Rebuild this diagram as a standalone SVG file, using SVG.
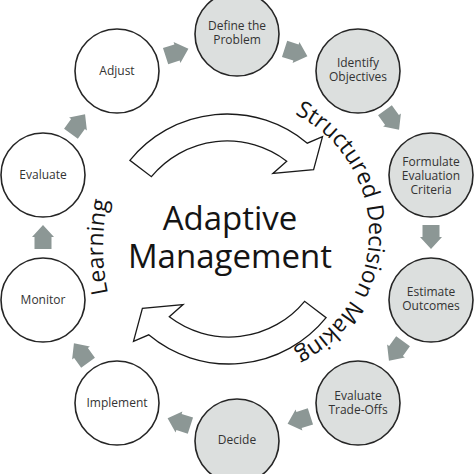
<svg xmlns="http://www.w3.org/2000/svg" xmlns:xlink="http://www.w3.org/1999/xlink" width="474" height="474" viewBox="0 0 474 474">
<style>
.n{stroke:#262626;stroke-width:1.6}
.w{fill:#ffffff}
.g{fill:#dcdfde}
.t{font-family:"Open Sans","DejaVu Sans",sans-serif;font-size:12px;fill:#333;text-anchor:middle}
.big{font-family:"Open Sans","DejaVu Sans",sans-serif;font-size:33px;fill:#141414;text-anchor:middle}
.arc{font-family:"Open Sans","DejaVu Sans",sans-serif;font-size:23px;fill:#141414}
.blk{fill:#8c9795}
.ca{fill:#ffffff;stroke:#1a1a1a;stroke-width:1.3;stroke-linejoin:miter}
</style>
<defs>
<path id="blk" class="blk" d="M-12,-8.5 L0,-8.5 L0,-11 L12,0 L0,11 L0,8.5 L-12,8.5 Z"/>
<path id="sdmPath" d="M 214.1,103 A 132 132 0 1 1 214.1,363" fill="none"/>
<path id="learnPath" d="M 132.5,357 A 220 220 0 0 1 132.5,137" fill="none"/>
<path id="cArrow" d="M 129.9,160.3 A 125 125 0 0 1 307.3,143.2 L 322.5,136.6 L 313.6,169.6 L 272.9,173.5 L 286.7,161.2 A 98 98 0 0 0 151.4,176.7 Z"/>
</defs>
<rect width="474" height="474" fill="#ffffff"/>

<g id="connectors">
<use xlink:href="#blk" href="#blk" transform="translate(177,52.5) rotate(-18)"/>
<use xlink:href="#blk" href="#blk" transform="translate(296,52.5) rotate(18)"/>
<use xlink:href="#blk" href="#blk" transform="translate(392,120) rotate(54)"/>
<use xlink:href="#blk" href="#blk" transform="translate(431,237) rotate(90)"/>
<use xlink:href="#blk" href="#blk" transform="translate(396,351) rotate(126)"/>
<use xlink:href="#blk" href="#blk" transform="translate(299,420) rotate(162)"/>
<use xlink:href="#blk" href="#blk" transform="translate(179,422) rotate(198)"/>
<use xlink:href="#blk" href="#blk" transform="translate(81,353) rotate(234)"/>
<use xlink:href="#blk" href="#blk" transform="translate(43,237) rotate(270)"/>
<use xlink:href="#blk" href="#blk" transform="translate(78,124) rotate(306)"/>
</g>

<g id="center">
<use xlink:href="#cArrow" href="#cArrow" class="ca"/>
<use xlink:href="#cArrow" href="#cArrow" class="ca" transform="rotate(180 228 239)"/>
<text class="big" x="230" y="230">Adaptive</text>
<text class="big" x="230" y="268">Management</text>
<text class="arc"><textPath xlink:href="#sdmPath" href="#sdmPath" startOffset="50%" text-anchor="middle">Structured Decision Making</textPath></text>
<text class="arc"><textPath xlink:href="#learnPath" href="#learnPath" startOffset="50%" text-anchor="middle">Learning</textPath></text>
</g>

<g id="define">
<circle class="n g" cx="237" cy="34" r="42"/>
<text class="t" x="237" y="30">Define the</text>
<text class="t" x="237" y="44">Problem</text>
</g>
<g id="identify">
<circle class="n g" cx="358" cy="71" r="42"/>
<text class="t" x="358" y="67">Identify</text>
<text class="t" x="358" y="81">Objectives</text>
</g>
<g id="formulate">
<circle class="n g" cx="431" cy="175" r="42"/>
<text class="t" x="431" y="166">Formulate</text>
<text class="t" x="431" y="180">Evaluation</text>
<text class="t" x="431" y="194">Criteria</text>
</g>
<g id="estimate">
<circle class="n g" cx="431" cy="300" r="42"/>
<text class="t" x="431" y="296">Estimate</text>
<text class="t" x="431" y="310">Outcomes</text>
</g>
<g id="tradeoffs">
<circle class="n g" cx="358" cy="403" r="42"/>
<text class="t" x="358" y="400">Evaluate</text>
<text class="t" x="358" y="414">Trade-Offs</text>
</g>
<g id="decide">
<circle class="n g" cx="237" cy="441" r="42"/>
<text class="t" x="237" y="444">Decide</text>
</g>
<g id="implement">
<circle class="n w" cx="117" cy="403" r="42"/>
<text class="t" x="117" y="407">Implement</text>
</g>
<g id="monitor">
<circle class="n w" cx="43" cy="300" r="42"/>
<text class="t" x="43" y="304">Monitor</text>
</g>
<g id="evaluate">
<circle class="n w" cx="43" cy="175" r="42"/>
<text class="t" x="43" y="179">Evaluate</text>
</g>
<g id="adjust">
<circle class="n w" cx="117" cy="71" r="42"/>
<text class="t" x="117" y="75">Adjust</text>
</g>
</svg>
